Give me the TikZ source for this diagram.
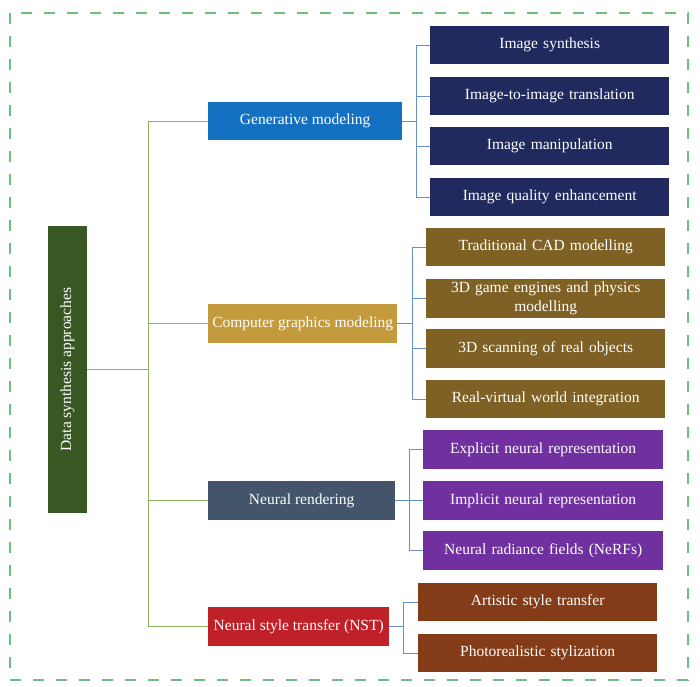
\documentclass[tikz,border=0pt]{standalone}
\usepackage{fontspec}
\setmainfont{Liberation Serif}

\definecolor{rootgreen}{RGB}{56,87,35}
\definecolor{genblue}{RGB}{20,112,192}
\definecolor{cgmgold}{RGB}{196,155,60}
\definecolor{nrdslate}{RGB}{68,84,106}
\definecolor{nstred}{RGB}{192,32,40}
\definecolor{navy}{RGB}{32,42,94}
\definecolor{olivebrown}{RGB}{127,97,37}
\definecolor{violet}{RGB}{112,48,160}
\definecolor{rust}{RGB}{132,60,24}
\definecolor{trunkgreen}{RGB}{141,180,95}
\definecolor{forkblue}{RGB}{100,145,200}
\definecolor{framegreen}{RGB}{110,190,130}

\tikzset{
    box/.style={anchor=west, inner sep=0pt, minimum height=38.5pt, text=white,
        font=\fontsize{15.5}{18.5}\selectfont, align=center},
    leaf/.style={box, minimum width=239pt, text width=235pt},
    trunk/.style={draw=trunkgreen, line width=0.8pt},
    fork/.style={draw=forkblue, line width=0.8pt}
}

\begin{document}
\begin{tikzpicture}[x=1pt,y=-1pt]
    \useasboundingbox (0,0) rectangle (700,686);
    \draw[framegreen, line width=1.3pt, dash pattern=on 11pt off 12pt]
        (10,13) rectangle (688,680);

    % root
    \node[box, fill=rootgreen, minimum width=287pt, minimum height=39pt, rotate=90, anchor=center]
        (root) at (67.5,369.5) {Data synthesis approaches};

    % first level
    \node[box, fill=genblue, minimum width=194pt] (gen) at (208,121) {Generative modeling};
    \node[box, fill=cgmgold, minimum width=189pt] (cgm) at (208,323.5) {Computer graphics modeling};
    \node[box, fill=nrdslate, minimum width=187pt] (nrd) at (208,500.5) {Neural rendering};
    \node[box, fill=nstred, minimum width=181pt] (nst) at (208,626.5) {Neural style transfer (NST)};

    % second level
    \node[leaf, fill=navy] (gen1) at (430,45) {Image synthesis};
    \node[leaf, fill=navy] (gen2) at (430,96) {Image-to-image translation};
    \node[leaf, fill=navy] (gen3) at (430,146) {Image manipulation};
    \node[leaf, fill=navy] (gen4) at (430,197) {Image quality enhancement};

    \node[leaf, fill=olivebrown] (cgm1) at (426,247) {Traditional CAD modelling};
    \node[leaf, fill=olivebrown] (cgm2) at (426,298.5) {3D game engines and physics\\modelling};
    \node[leaf, fill=olivebrown] (cgm3) at (426,348.5) {3D scanning of real objects};
    \node[leaf, fill=olivebrown] (cgm4) at (426,399) {Real-virtual world integration};

    \node[leaf, fill=violet, minimum width=240pt] (nrd1) at (423,449.5) {Explicit neural representation};
    \node[leaf, fill=violet, minimum width=240pt] (nrd2) at (423,500.5) {Implicit neural representation};
    \node[leaf, fill=violet, minimum width=240pt] (nrd3) at (423,550.5) {Neural radiance fields (NeRFs)};

    \node[leaf, fill=rust] (nst1) at (418,602) {Artistic style transfer};
    \node[leaf, fill=rust] (nst2) at (418,653) {Photorealistic stylization};

    % connectors
    \coordinate (split) at (148,369.5);
    \draw[trunk] (root.south) -- (split);
    \draw[trunk] (split) |- (gen.west);
    \draw[trunk] (split) |- (cgm.west);
    \draw[trunk] (split) |- (nrd.west);
    \draw[trunk] (split) |- (nst.west);

    \draw[fork] (gen.east) -- ++(14,0) |- (gen1.west);
    \draw[fork] (gen.east) -- ++(14,0) |- (gen2.west);
    \draw[fork] (gen.east) -- ++(14,0) |- (gen3.west);
    \draw[fork] (gen.east) -- ++(14,0) |- (gen4.west);

    \draw[fork] (cgm.east) -- ++(15,0) |- (cgm1.west);
    \draw[fork] (cgm.east) -- ++(15,0) |- (cgm2.west);
    \draw[fork] (cgm.east) -- ++(15,0) |- (cgm3.west);
    \draw[fork] (cgm.east) -- ++(15,0) |- (cgm4.west);

    \draw[fork] (nrd.east) -- ++(14,0) |- (nrd1.west);
    \draw[fork] (nrd.east) -- ++(14,0) |- (nrd2.west);
    \draw[fork] (nrd.east) -- ++(14,0) |- (nrd3.west);

    \draw[fork] (nst.east) -- ++(14,0) |- (nst1.west);
    \draw[fork] (nst.east) -- ++(14,0) |- (nst2.west);
\end{tikzpicture}
\end{document}
